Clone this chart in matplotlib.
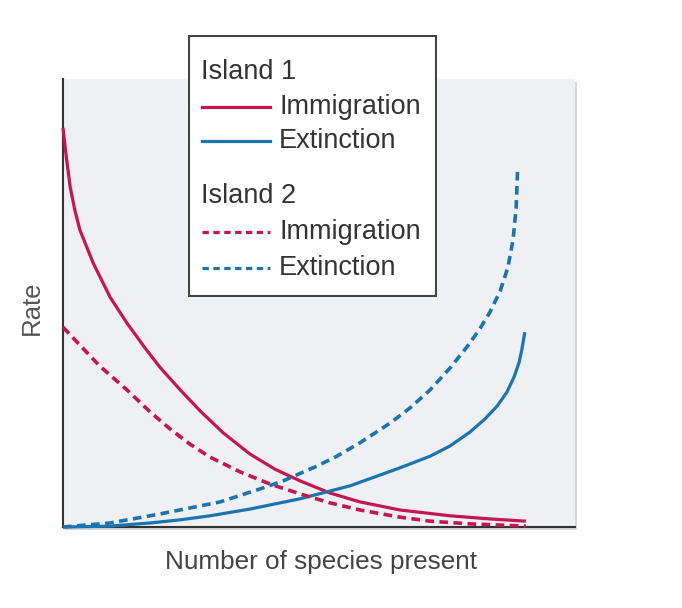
import matplotlib.pyplot as plt
from matplotlib.patches import Rectangle

plt.rcParams['font.family'] = ['Liberation Sans', 'DejaVu Sans']

# values (species 0-100, rate 0-100)
imm1_x = [0, 0.6, 1.4, 2.3, 3.3, 5.9, 9.2, 12.5, 16.0, 18.9, 22.9, 26.8, 31.3, 36.5,
          41.4, 46.3, 52.1, 58.0, 65.8, 75.6, 83.4, 90.4]
imm1_y = [89.1, 83.0, 75.9, 70.8, 66.3, 58.9, 51.3, 45.5, 40.0, 35.7, 30.6, 25.9, 21.0, 16.3,
          12.9, 10.3, 7.6, 5.6, 3.8, 2.5, 1.8, 1.3]

ext1_x = [0, 9.2, 17.0, 22.9, 28.7, 36.5, 46.3, 56.1, 65.8, 71.7, 75.6, 79.5, 82.4, 84.8,
          86.7, 88.1, 89.1, 89.6, 90.2]
ext1_y = [0, 0.2, 0.9, 1.6, 2.5, 4.0, 6.3, 9.2, 13.2, 15.8, 18.1, 21.2, 24.1, 27.0,
          30.1, 33.5, 36.8, 39.5, 43.5]

imm2_x = [0, 3.3, 7.2, 12.5, 17.0, 20.9, 24.8, 28.7, 34.6, 40.4, 46.3, 52.1, 58.0, 65.8,
          71.7, 79.5, 90.4]
imm2_y = [44.6, 40.6, 35.9, 30.6, 25.7, 21.9, 18.5, 15.6, 12.3, 9.6, 7.4, 5.4, 3.8, 2.2,
          1.3, 0.7, 0.2]

ext2_x = [0, 9.2, 18.9, 30.7, 38.5, 43.0, 49.6, 53.5, 58.0, 63.9, 67.8, 71.7, 75.6, 78.9,
          81.4, 83.4, 85.4, 86.9, 87.9, 88.5, 88.8]
ext2_y = [0, 0.9, 2.9, 5.6, 8.5, 10.3, 13.6, 15.8, 18.8, 23.2, 26.6, 30.6, 35.5, 40.2,
          44.2, 48.0, 52.7, 58.0, 64.1, 71.2, 80.1]

RED = '#c4174f'
BLUE = '#1c74ae'
W, H = 682, 608

fig = plt.figure(figsize=(W / 100, H / 100), dpi=100)
# soft shadow behind the plot panel
fig.patches.append(Rectangle((65 / W, (H - 530) / H), 512 / W, 448 / H,
                             transform=fig.transFigure, facecolor='#d6d7da',
                             edgecolor='none', zorder=-1))
ax = fig.add_axes([63 / W, (H - 527) / H, 512 / W, 448 / H])
ax.set_facecolor('#eef0f3')
ax.set_xlim(0, 100)
ax.set_ylim(0, 100)
ax.set_xticks([])
ax.set_yticks([])
for s in ['top', 'right']:
    ax.spines[s].set_visible(False)
for s in ['left', 'bottom']:
    ax.spines[s].set_color('#333333')
    ax.spines[s].set_linewidth(1.5)

lw = 2.3
ax.plot(imm1_x, imm1_y, color=RED, lw=lw, zorder=3, clip_on=False, solid_capstyle='butt')
ax.plot(ext1_x, ext1_y, color=BLUE, lw=lw, zorder=3, clip_on=False, solid_capstyle='butt')
ax.plot(imm2_x, imm2_y, color=RED, lw=2.6, ls=(0, (2.4, 1.5)), zorder=3, clip_on=False)
ax.plot(ext2_x, ext2_y, color=BLUE, lw=2.6, ls=(0, (2.4, 1.5)), zorder=3, clip_on=False)

ax.set_xlabel('Number of species present', fontsize=18.8, color='#444444')
ax.xaxis.set_label_coords(0.504, -0.078)
ax.xaxis.label.set_va('center')
ax.set_ylabel('Rate', fontsize=18.5, color='#555555')
ax.yaxis.set_label_coords(-0.0605, 0.489)
ax.yaxis.label.set_va('center')

# legend box drawn in pixel coords
lg = fig.add_axes([188 / W, (H - 297) / H, 249 / W, 262 / H])
lg.set_xlim(188, 437)
lg.set_ylim(297, 35)
lg.axis('off')
lg.add_patch(Rectangle((189, 36), 247, 260, facecolor='white', edgecolor='#444444', lw=1.5))

fs = 19.5
lg.text(201, 72, 'Island 1', fontsize=fs, color='#333333', va='center')
lg.text(201, 196, 'Island 2', fontsize=fs, color='#333333', va='center')
rows = [(107, RED, '-', 'Immigration'), (141, BLUE, '-', 'Extinction'),
        (232, RED, (0, (2.0, 1.4)), 'Immigration'), (268, BLUE, (0, (2.0, 1.4)), 'Extinction')]
for y, c, ls, lab in rows:
    lg.plot([202, 270], [y, y], color=c, lw=2.3, ls=ls)
    lg.text(279, y, lab, fontsize=fs, color='#333333', va='center')

fig.savefig('out.png', dpi=100)
